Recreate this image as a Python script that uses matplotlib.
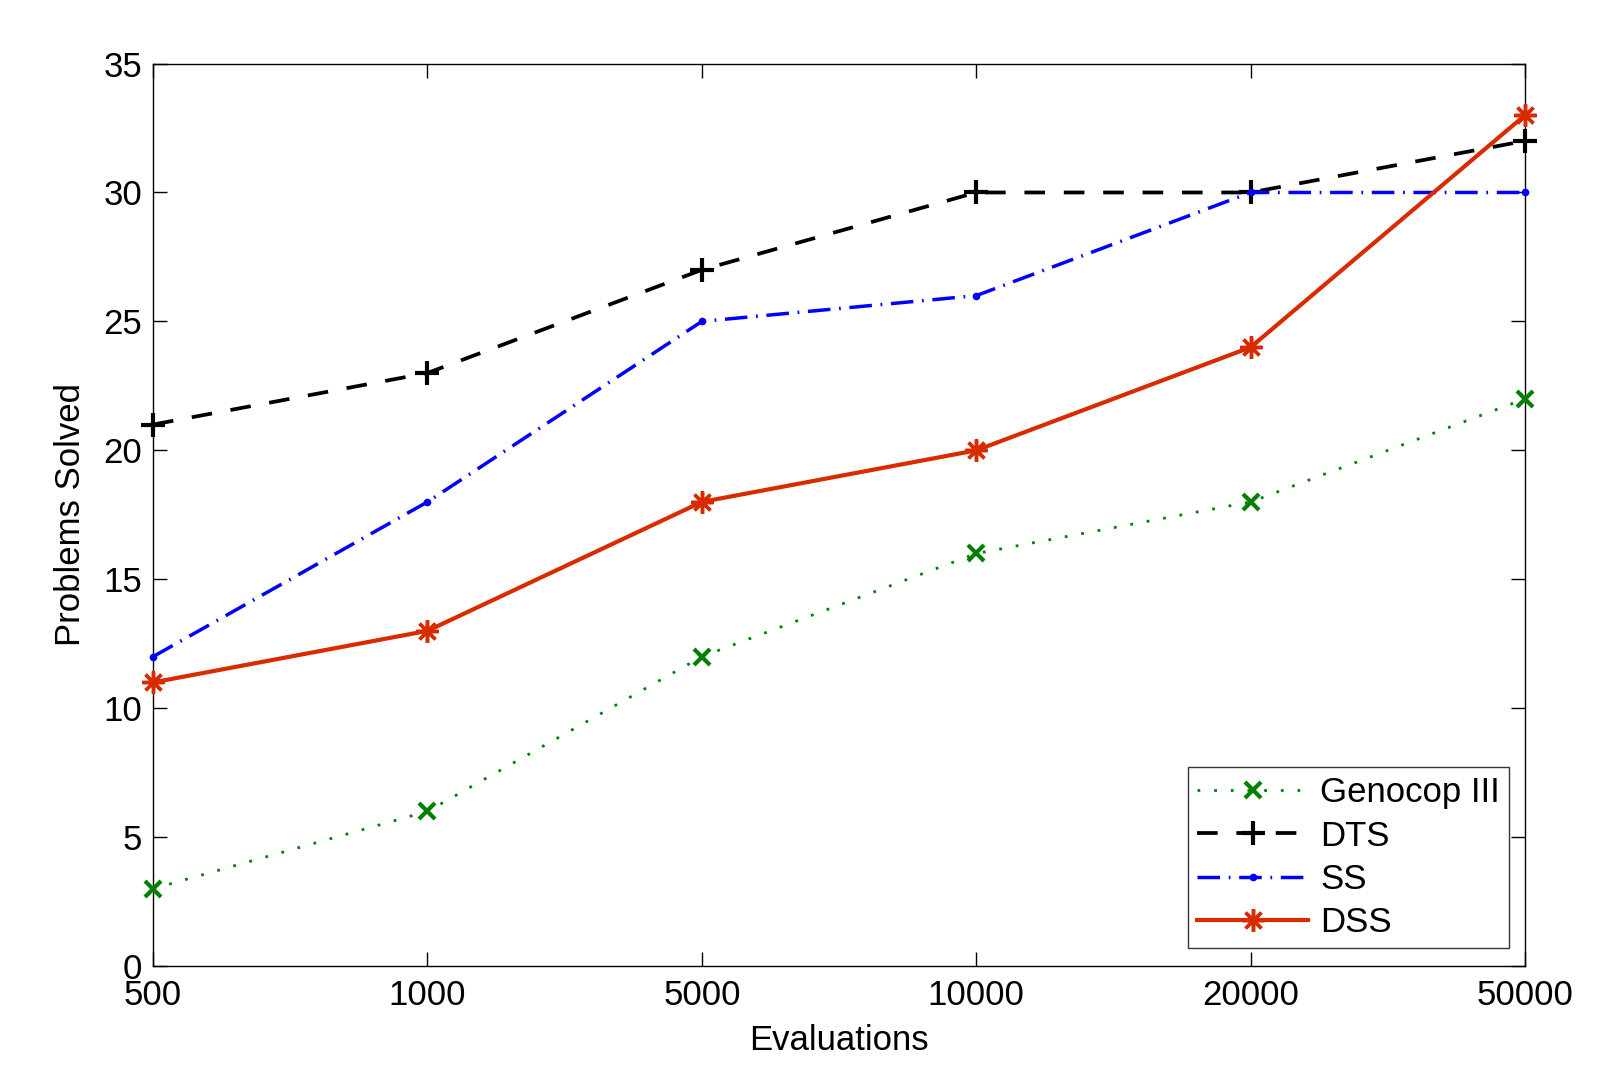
import matplotlib
matplotlib.use('Agg')
import matplotlib.pyplot as plt

# data
evals = ['500', '1000', '5000', '10000', '20000', '50000']
genocop = [3, 6, 12, 16, 18, 22]
dts = [21, 23, 27, 30, 30, 32]
ss = [12, 18, 25, 26, 30, 30]
dss = [11, 13, 18, 20, 24, 33]

plt.rcParams['font.family'] = ['Liberation Sans', 'DejaVu Sans']

fig = plt.figure(figsize=(16.01, 10.77), dpi=100)
ax = fig.add_axes([0.0956, 0.103, 0.857, 0.838])
x = range(len(evals))

ax.plot(x, genocop, color='#008000', linestyle=(0, (1, 5)), linewidth=2, marker='x',
        markersize=12, markeredgewidth=3, label='Genocop III', clip_on=False, zorder=3)
ax.plot(x, dts, color='black', linestyle=(0, (5.5, 5)), linewidth=2.7, marker='+',
        markersize=17, markeredgewidth=3, label='DTS', clip_on=False, zorder=3)
ax.plot(x, ss, color='#0000ff', linestyle=(0, (6.5, 2.5, 0.5, 2.5)), linewidth=2.5, marker='.',
        markersize=9, label='SS', clip_on=False, zorder=3)
ax.plot(x, dss, color='#d92b00', linestyle='-', linewidth=3, marker=(8, 2, 0),
        markersize=16, markeredgewidth=2.5, label='DSS', clip_on=False, zorder=3)

ax.set_xlim(0, len(evals) - 1)
ax.set_ylim(0, 35)
ax.set_xticks(list(x))
ax.set_xticklabels(evals)
ax.set_yticks(range(0, 36, 5))
ax.tick_params(direction='in', length=10, width=1, labelsize=25, top=True, right=True)
ax.tick_params(axis='x', pad=9)
ax.tick_params(axis='y', pad=8)
for s in ax.spines.values():
    s.set_linewidth(1)

ax.set_xlabel('Evaluations', fontsize=25, labelpad=9)
ax.set_ylabel('Problems Solved', fontsize=25, labelpad=12)

leg = ax.legend(loc='lower right', fontsize=25, frameon=True, fancybox=False,
                edgecolor='black', handlelength=3.2, borderpad=0.25, labelspacing=0.3,
                handletextpad=0.35, borderaxespad=0, bbox_to_anchor=(0.988, 0.02))
leg.get_frame().set_linewidth(1)

fig.savefig('out.png', dpi=100)
